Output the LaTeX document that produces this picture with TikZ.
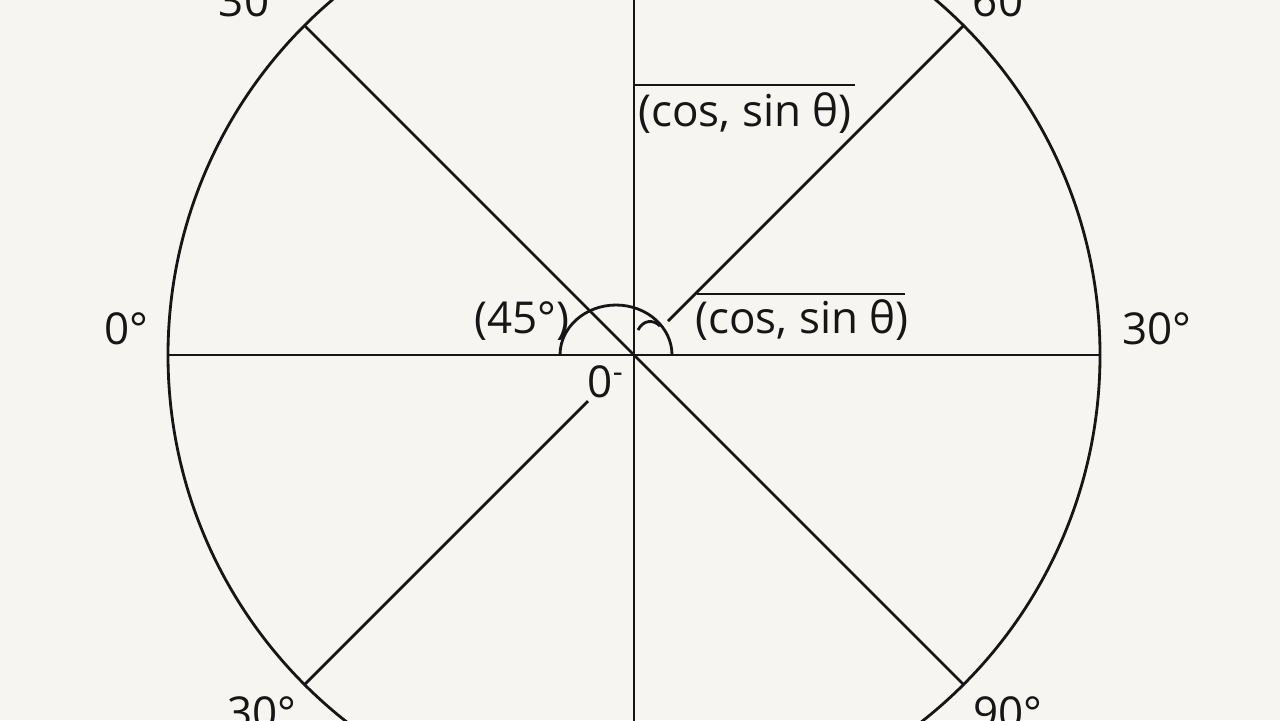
\documentclass[tikz,border=0pt]{standalone}
\usepackage{fontspec}
\setmainfont{Open Sans}
\definecolor{ink}{RGB}{22,22,22}
\definecolor{paper}{RGB}{247,245,242}
\begin{document}
\begin{tikzpicture}[x=0.01cm,y=-0.01cm,line width=0.8pt,color=ink,every node/.style={inner sep=0pt,font=\fontsize{12.5}{15}\selectfont}]
\fill[paper] (0,0) rectangle (1280,720);
\useasboundingbox (0,0) rectangle (1280,720);
\clip (0,0) rectangle (1280,720);
\coordinate (O)    at (634,355);
\coordinate (N)    at (634,-111);
\coordinate (S)    at (634,821);
\coordinate (W)    at (168,355);
\coordinate (E)    at (1100,355);
\coordinate (NW)   at (304.5,25.5);
\coordinate (NE)   at (963.5,25.5);
\coordinate (SW)   at (304.5,684.5);
\coordinate (SE)   at (963.5,684.5);
\coordinate (NEin) at (668,321);
\coordinate (SWin) at (588,401);
\draw (O) circle [radius=466];
\draw (N)  -- (S);
\draw (W)  -- (E);
\draw (NW) -- (SE);
\draw (NE) -- (NEin);
\draw (SW) -- (SWin);
\draw (560,355) arc [start angle=180, end angle=360, x radius=56, y radius=50];
\draw (638,330) .. controls (643,320) and (653,319) .. (660,326);
\node (tl)   at (244,1)   { 30 };
\node (tr)   at (998,1)   { 60 };
\node (lft)  at (126,329) { 0° };
\node (rgt)  at (1157,329){ 30° };
\node (bl)   at (262,713) { 30° };
\node (br)   at (1008,713){ 90° };
\node (ang)  at (522,321) { (45°) };
\node (orig) at (606,382) { 0\textsuperscript{-} };
\node (cs1)  at (745,113) { (cos, sin θ) };
\node (cs2)  at (802,320) { (cos, sin θ) };
\draw (635,85) -- (855,85);
\draw (697,294) -- (905,294);
\end{tikzpicture}
\end{document}
